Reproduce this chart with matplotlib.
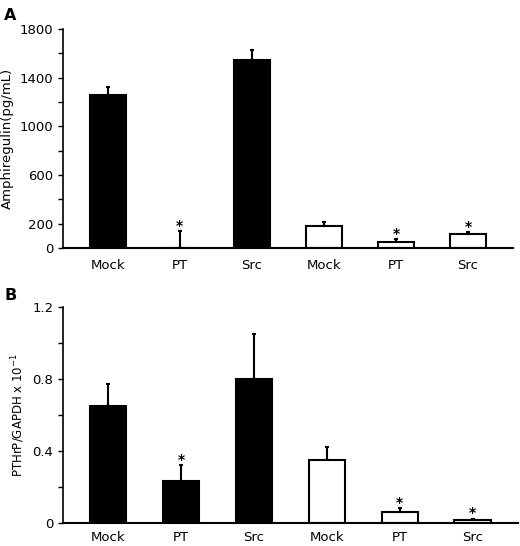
import matplotlib.pyplot as plt
import numpy as np

labels = ['Mock', 'PT', 'Src', 'Mock', 'PT', 'Src']
fills = ['black', 'black', 'black', 'white', 'white', 'white']

# Panel A: amphiregulin (pg/mL)
amph = [1260, 0, 1545, 180, 47, 118]
amph_err = [60, 140, 80, 35, 24, 12]
amph_star = [False, True, False, False, True, True]
amph_ticks = [0, 200, 400, 600, 800, 1000, 1200, 1400, 1600, 1800]
amph_ticklabels = ['0', '200', '', '600', '', '1000', '', '1400', '', '1800']

# Panel B: PTHrP/GAPDH x 10^-1
pthrp = [0.65, 0.23, 0.80, 0.35, 0.06, 0.016]
pthrp_err = [0.125, 0.09, 0.25, 0.07, 0.022, 0.006]
pthrp_star = [False, True, False, False, True, True]
pthrp_ticks = [0, 0.2, 0.4, 0.6, 0.8, 1.0, 1.2]
pthrp_ticklabels = ['0', '', '0.4', '', '0.8', '', '1.2']

fig = plt.figure(figsize=(5.2, 5.46), dpi=100)
axA = fig.add_axes([0.121, 0.5458, 0.865, 0.401])
axB = fig.add_axes([0.121, 0.043, 0.875, 0.394])


def draw(ax, vals, errs, stars, ticks, ticklabels, ylabel, ylsize, star_off, pad):
    x = np.arange(len(vals))
    ax.bar(x, vals, width=0.5, color=fills, edgecolor='black', linewidth=1.5, zorder=2)
    ax.errorbar(x, vals, yerr=[np.zeros(len(errs)), errs], fmt='none',
                ecolor='black', elinewidth=1.5, capsize=1.5, capthick=1.5, zorder=3)
    for xi, v, e, s in zip(x, vals, errs, stars):
        if s:
            ax.text(xi, v + e + star_off, '*', ha='center', va='bottom',
                    fontsize=10, fontweight='bold')
    ax.set_xlim(-0.62, 5.62)
    ax.set_ylim(0, ticks[-1])
    ax.set_yticks(ticks)
    ax.set_yticklabels(ticklabels)
    ax.set_xticks(x)
    ax.set_xticklabels(labels)
    ax.tick_params(axis='x', length=0, pad=pad, labelsize=9.5)
    ax.tick_params(axis='y', length=3.5, width=1, labelsize=9.5)
    for side in ['top', 'right']:
        ax.spines[side].set_visible(False)
    ax.spines['left'].set_linewidth(1.2)
    ax.spines['bottom'].set_linewidth(1.5)
    ax.set_ylabel(ylabel, fontsize=ylsize)


draw(axA, amph, amph_err, amph_star, amph_ticks, amph_ticklabels,
     'Amphiregulin(pg/mL)', 9.5, -15, 8)
draw(axB, pthrp, pthrp_err, pthrp_star, pthrp_ticks, pthrp_ticklabels,
     'PTHrP/GAPDH x 10$^{-1}$', 8.5, -0.01, 6)

fig.text(0.008, 0.972, 'A', fontsize=11.5, fontweight='bold', va='center')
fig.text(0.008, 0.458, 'B', fontsize=11.5, fontweight='bold', va='center')

fig.savefig('out.png', dpi=100)
